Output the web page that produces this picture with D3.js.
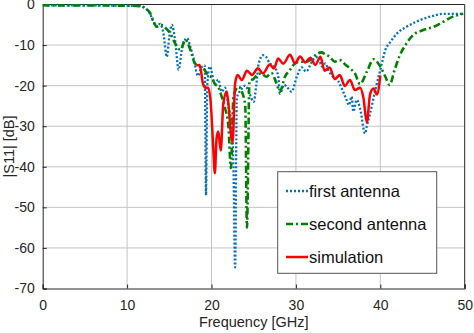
<!DOCTYPE html>
<html>
<head>
<meta charset="utf-8">
<script src="https://cdn.jsdelivr.net/npm/d3@7"></script>
<style>
  html, body { margin: 0; padding: 0; background: #fff; }
  svg { display: block; font-family: "Liberation Sans", Arial, sans-serif; }
</style>
</head>
<body>
<svg id="chart" width="474" height="333"></svg>
<script>
// ---- data ----
const xTicks = [0, 10, 20, 30, 40, 50];
const yTicks = [0, -10, -20, -30, -40, -50, -60, -70];
const seriesNames = ["first antenna", "second antenna", "simulation"];

const firstAntenna = [
  [0,-0.2],[5,-0.2],[10,-0.3],[11.5,-0.4],[12.2,-1],[12.7,-2.2],[13.1,-4.2],[13.5,-5.5],[13.9,-4.8],
  [14.3,-7],[14.7,-12.9],[15.0,-8],[15.3,-5],[15.7,-9],[16.1,-16.1],[16.5,-11],[17.1,-8.3],[17.5,-10.5],
  [17.9,-13.5],[18.4,-17.6],[18.8,-15.5],[19.2,-15],[19.35,-47],[19.5,-20],[19.8,-15.3],[20.4,-19.5],
  [20.8,-18.5],[21.2,-21.5],[21.6,-20.5],[22.0,-25],[22.4,-30],[22.6,-40],[22.8,-64.8],[23.0,-23],
  [23.5,-21],[24.0,-20],[24.5,-22],[25.0,-24],[25.3,-20],[25.6,-14.5],[26.1,-12.5],[26.5,-13],
  [26.9,-14.5],[27.3,-15],[27.9,-17.5],[28.1,-22],[28.6,-19.8],[29.0,-20.5],[29.5,-21.5],[30.1,-17.8],
  [30.7,-15.5],[31.2,-16.5],[32.0,-13.7],[32.6,-12.9],[33.1,-15.3],[33.5,-14.5],[33.9,-16.5],[34.4,-17.8],
  [35.0,-18.8],[35.6,-21.5],[36.0,-23.5],[36.3,-24.8],[36.6,-22.7],[36.8,-26.4],[37.2,-23.5],[37.6,-25.6],
  [38.2,-31.8],[38.4,-30],[38.8,-26.8],[39.4,-21.1],[40.0,-16.1],[40.6,-11.2],[41.2,-9.2],[42.0,-7.1],
  [43.1,-5.5],[44.3,-4.2],[45.9,-3],[47.5,-2.3],[50,-2.3]
];

const secondAntenna = [
  [0,-0.2],[10,-0.3],[11.5,-0.4],[12.2,-1],[12.7,-2],[13.1,-4],[13.5,-5.5],[14.0,-5],[14.4,-5.5],
  [15.1,-7.1],[15.7,-9.6],[16.3,-11.2],[16.9,-8.7],[17.5,-11.2],[18.0,-14.4],[18.6,-15.3],[19.0,-15.7],
  [19.6,-17.4],[20.0,-18],[20.4,-19.6],[20.8,-20.3],[21.2,-22.7],[21.6,-25.5],[22.0,-30],[22.3,-40.3],
  [22.6,-22.7],[23.2,-20.3],[23.6,-21.5],[24.0,-25],[24.2,-55],[24.5,-19],[25.0,-18.3],[25.4,-17.4],
  [25.9,-17],[26.5,-17.8],[27.1,-16.9],[27.7,-19.4],[28.1,-21.5],[28.7,-17.8],[29.3,-16.1],[29.9,-14.5],
  [30.5,-14.1],[31.3,-14.1],[31.9,-13.3],[32.5,-12.2],[33.0,-11.8],[33.5,-12.3],[34.0,-12.9],[34.6,-14.1],
  [35.2,-13.7],[35.9,-14.9],[36.5,-15.9],[37.0,-17],[37.6,-19.6],[38.4,-16.6],[39.2,-13.5],[40.0,-15.3],
  [40.6,-17.8],[41.1,-19.8],[41.7,-16.1],[42.3,-12.6],[43.1,-9.6],[43.9,-7.5],[45.1,-6.3],[46.3,-5.5],
  [47.5,-4.2],[48.6,-3],[49.8,-2.3]
];

const simulation = [
  [18.2,-15],[18.6,-14.9],[19.0,-19.6],[19.3,-20.5],[19.6,-20.5],[19.9,-24],[20.2,-35],[20.4,-41.6],
  [20.6,-33],[20.8,-31.3],[21.1,-36],[21.4,-24.4],[21.8,-21.5],[22.0,-24.3],[22.3,-32],[22.5,-34],
  [22.8,-19.4],[23.1,-17.4],[23.6,-18.6],[24.2,-16.3],[24.8,-17.4],[25.5,-15.7],[26.1,-17],[26.9,-14.8],
  [27.4,-15.8],[27.9,-13.3],[28.5,-14.6],[29.3,-12.4],[29.9,-14.5],[30.5,-12.8],[31.1,-14.3],[31.7,-13.1],
  [32.3,-14.9],[32.9,-12.9],[33.4,-16.3],[34.0,-15.5],[34.6,-18.4],[35.2,-17.4],[35.8,-20.1],[36.4,-18.6],
  [37.0,-21.1],[37.6,-20.5],[38.0,-23],[38.4,-29.1],[38.8,-22],[39.2,-20.7],[39.6,-22.2],[40.0,-17.5]
];

// ---- layout ----
const W = 474, H = 333;
const margin = { left: 42.7, right: 9.3, top: 4.5, bottom: 44.5 };
const svg = d3.select("#chart");
const x = d3.scaleLinear().domain([0, 50]).range([margin.left, W - margin.right]);
const y = d3.scaleLinear().domain([-70, 0]).range([H - margin.bottom, margin.top]);

const gridColor = "#c4c4c4";
const axisColor = "#262626";
const textColor = "#262626";

// grid
svg.append("g").selectAll("line").data(xTicks.slice(1, -1)).join("line")
  .attr("x1", d => x(d)).attr("x2", d => x(d))
  .attr("y1", y(-70)).attr("y2", y(0))
  .attr("stroke", gridColor).attr("stroke-width", 1);
svg.append("g").selectAll("line").data(yTicks.slice(1, -1)).join("line")
  .attr("y1", d => y(d)).attr("y2", d => y(d))
  .attr("x1", x(0)).attr("x2", x(50))
  .attr("stroke", gridColor).attr("stroke-width", 1);

// axes (ticks inward, box)
const xAxis = d3.axisBottom(x).tickValues(xTicks).tickSize(-4).tickPadding(12).tickFormat(d3.format("d"));
const yAxis = d3.axisLeft(y).tickValues(yTicks).tickSize(-4).tickPadding(8).tickFormat(d => d);
const gx = svg.append("g").attr("transform", `translate(0,${y(-70)})`).call(xAxis);
const gy = svg.append("g").attr("transform", `translate(${x(0)},0)`).call(yAxis);
[gx, gy].forEach(g => {
  g.select(".domain").attr("stroke", axisColor);
  g.selectAll(".tick line").attr("stroke", axisColor);
  g.selectAll(".tick text").attr("fill", textColor).attr("font-size", "14px")
    .attr("font-family", "'Liberation Sans', Arial, sans-serif");
});
// top and right box edges
svg.append("line").attr("x1", x(0)).attr("x2", x(50)).attr("y1", y(0)).attr("y2", y(0)).attr("stroke", axisColor);
svg.append("line").attr("x1", x(50)).attr("x2", x(50)).attr("y1", y(0)).attr("y2", y(-70)).attr("stroke", axisColor);

// axis labels
svg.append("text").attr("x", (x(0) + x(50)) / 2).attr("y", 327)
  .attr("text-anchor", "middle").attr("font-size", "14.5px").attr("fill", textColor)
  .text("Frequency [GHz]");
svg.append("text").attr("transform", `translate(14,${(y(0) + y(-70)) / 2}) rotate(-90)`)
  .attr("text-anchor", "middle").attr("font-size", "14.5px").attr("fill", textColor)
  .text("|S11| [dB]");

// lines
const clipId = "plotclip";
svg.append("clipPath").attr("id", clipId).append("rect")
  .attr("x", x(0)).attr("y", y(0) - 2).attr("width", x(50) - x(0)).attr("height", y(-70) - y(0) + 2);

const line = d3.line().x(d => x(d[0])).y(d => y(d[1])).curve(d3.curveMonotoneX);
const styles = [
  { data: firstAntenna, color: "#0072BD", dash: "2,2", width: 2.3 },
  { data: secondAntenna, color: "#008000", dash: "7,3,2,3", width: 2.6 },
  { data: simulation, color: "#FF0000", dash: null, width: 2.5 }
];
const plot = svg.append("g").attr("clip-path", `url(#${clipId})`);
styles.forEach(s => {
  plot.append("path").datum(s.data).attr("d", line)
    .attr("fill", "none").attr("stroke", s.color).attr("stroke-width", s.width)
    .attr("stroke-dasharray", s.dash).attr("stroke-linejoin", "round");
});

// legend
const lg = svg.append("g");
lg.append("rect").attr("x", 277.7).attr("y", 171.7).attr("width", 159).attr("height", 101.6)
  .attr("fill", "#fff").attr("stroke", "#555").attr("stroke-width", 1);
seriesNames.forEach((name, i) => {
  const cy = 191 + i * 33;
  lg.append("line").attr("x1", 286).attr("x2", 308).attr("y1", cy).attr("y2", cy)
    .attr("stroke", styles[i].color).attr("stroke-width", styles[i].width)
    .attr("stroke-dasharray", styles[i].dash);
  lg.append("text").attr("x", 309).attr("y", cy + 5.5).attr("font-size", "16.5px")
    .attr("fill", "#111").text(name);
});
</script>
</body>
</html>
